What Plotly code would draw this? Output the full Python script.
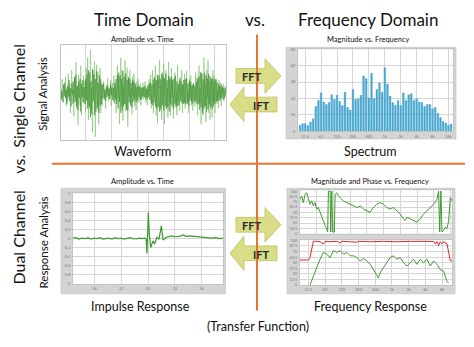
import plotly.graph_objects as go

W, H = 474, 347

# ---------------- data ----------------
wave = [
    0.05,-0.12,0.3,0.08,-0.22,0.15,-0.05,0.35,-0.3,0.1,-0.18,0.42,-0.08,0.2,-0.45,0.12,0.5,-0.25,0.06,-0.52,
    0.3,-0.1,0.68,-0.35,0.15,-0.72,0.4,0.05,-0.28,0.6,-0.5,0.12,-0.2,0.38,-0.1,0.25,-0.42,0.55,-0.15,0.78,
    -0.6,0.2,-0.35,0.95,-0.4,0.1,-0.88,0.5,-0.15,0.7,-0.98,0.3,0.62,-0.25,0.45,-0.7,0.12,0.55,-0.45,0.2,
    -0.3,0.1,0.25,-0.12,0.05,-0.35,0.18,-0.05,0.32,-0.2,0.08,-0.15,0.28,-0.3,0.1,0.22,-0.08,0.38,-0.25,0.15,
    -0.45,0.2,0.6,-0.12,0.35,-0.7,0.1,0.78,-0.3,0.5,-0.62,0.15,-0.25,0.72,-0.4,0.08,0.55,-0.75,0.3,-0.1,
    0.5,-0.2,0.1,-0.48,0.35,-0.08,0.42,-0.3,0.12,-0.38,0.25,-0.05,0.3,-0.22,0.08,0.2,-0.28,0.12,-0.1,0.22,
    -0.15,0.05,0.25,-0.2,0.1,-0.28,0.18,-0.05,0.3,-0.15,0.4,-0.35,0.1,0.5,-0.45,0.2,-0.12,0.6,-0.5,0.25,
    -0.68,0.3,0.1,0.72,-0.4,0.15,-0.6,0.45,-0.08,0.65,-0.7,0.2,0.5,-0.3,0.1,-0.55,0.68,-0.2,0.35,-0.5,
    0.55,-0.1,0.3,-0.58,0.2,0.45,-0.3,0.05,-0.5,0.6,-0.2,0.12,-0.4,0.35,-0.08,0.5,-0.45,0.18,-0.25,0.42,
    -0.35,0.1,0.48,-0.2,0.05,-0.45,0.3,-0.12,0.38,-0.28,0.15,-0.4,0.22,0.05,-0.3,0.45,-0.15,0.35,-0.5,0.2,
    0.6,-0.25,0.1,-0.7,0.45,0.15,-0.5,0.78,-0.3,0.2,-0.65,0.5,-0.1,0.72,-0.45,0.25,-0.6,0.35,0.08,-0.55,
    0.5,-0.2,0.38,-0.45,0.1,0.3,-0.25,0.05,-0.35,0.28,-0.1,0.22,-0.3,0.12,-0.05,0.2,-0.18,0.08,0.15,-0.1,
]
wave_core = [
    0.1,-0.15,0.05,-0.2,0.18,-0.08,0.22,-0.12,0.06,-0.25,0.15,-0.1,0.28,-0.18,0.1,-0.3,0.2,-0.05,0.25,-0.22,
    0.35,-0.2,0.4,-0.3,0.15,-0.38,0.25,-0.12,0.3,-0.42,0.2,-0.1,0.28,-0.22,0.12,-0.25,0.3,-0.18,0.4,-0.35,
    0.5,-0.3,0.45,-0.55,0.25,-0.48,0.52,-0.2,0.4,-0.5,0.3,-0.42,0.48,-0.35,0.22,-0.45,0.38,-0.28,0.3,-0.25,
    0.18,-0.12,0.2,-0.15,0.08,-0.18,0.12,-0.1,0.15,-0.08,0.1,-0.14,0.18,-0.06,0.12,-0.16,0.1,-0.2,0.22,-0.15,
    0.3,-0.25,0.4,-0.35,0.45,-0.2,0.38,-0.45,0.3,-0.4,0.48,-0.3,0.35,-0.25,0.42,-0.38,0.28,-0.4,0.35,-0.22,
    0.3,-0.28,0.22,-0.32,0.28,-0.2,0.25,-0.15,0.2,-0.22,0.12,-0.18,0.15,-0.1,0.14,-0.16,0.1,-0.15,0.12,-0.08,
    0.12,-0.1,0.15,-0.12,0.08,-0.15,0.14,-0.1,0.2,-0.16,0.22,-0.25,0.18,-0.28,0.3,-0.22,0.35,-0.3,0.28,-0.35,
    0.4,-0.32,0.38,-0.42,0.3,-0.35,0.42,-0.28,0.36,-0.4,0.32,-0.3,0.42,-0.36,0.28,-0.32,0.38,-0.42,0.3,-0.26,
    0.35,-0.3,0.28,-0.36,0.32,-0.24,0.38,-0.32,0.25,-0.3,0.2,-0.28,0.3,-0.18,0.25,-0.22,0.18,-0.25,0.28,-0.22,
    0.3,-0.26,0.32,-0.24,0.2,-0.3,0.26,-0.18,0.24,-0.2,0.18,-0.24,0.2,-0.18,0.15,-0.2,0.24,-0.26,0.3,-0.24,
    0.36,-0.38,0.45,-0.32,0.42,-0.46,0.3,-0.36,0.44,-0.3,0.38,-0.42,0.32,-0.36,0.42,-0.26,0.36,-0.32,0.3,-0.36,
    0.32,-0.3,0.26,-0.24,0.3,-0.2,0.24,-0.18,0.2,-0.18,0.15,-0.16,0.18,-0.12,0.13,-0.15,0.1,-0.12,0.09,-0.07,
]
wave_idx = list(range(len(wave)))
wave_grid = [36, 74, 111, 148, 186, 223]

spectrum = [5.4, 7.3, 7.3, 5.4, 8.9, 12, 24, 30, 37.5, 28.6, 26, 28, 35.6, 31, 35, 29, 25, 38, 23, 20.6,
            40.6, 31, 31.7, 35, 54, 51.4, 32.4, 56.5, 31.7, 40.6, 47, 38, 62, 46, 34.3, 28, 25.4, 30, 25,
            37.5, 30, 35.6, 36.5, 30, 31.7, 28.6, 28, 24, 26, 26, 22, 23, 17.5, 13.3, 9.5, 8, 5.7, 7]
bands = list(range(1, len(spectrum) + 1))
spec_ticks = [3, 9, 15, 21, 27, 33, 39, 45, 51, 57]
spec_labels = ["31.5", "63", "125", "250", "500", "1k", "2k", "4k", "8k", "16k"]

imp_t = [0, 2, 4, 6, 8, 10, 12, 14, 16, 18, 20, 22, 24, 26, 28, 30, 32, 34, 36, 38, 40, 42, 44, 46, 48,
         48.8, 49.3, 50.2, 50.9, 51.8, 53.3, 54.4, 56, 57.3, 58.9, 60, 62.2, 65.5, 68, 71, 73.3, 75.5,
         78, 82, 86, 89, 92, 95, 98, 100]
imp_v = [0.01, 0.02, -0.01, 0.01, 0.0, 0.02, -0.01, 0.01, 0.0, 0.02, -0.01, 0.0, 0.01, -0.01, 0.02, 0.0,
         0.01, -0.01, 0.0, 0.02, 0.0, -0.01, 0.01, 0.0, 0.01,
         -0.02, -0.33, 0.58, 0.1, -0.2, -0.05, -0.12, 0.03, -0.02, 0.28, -0.03, 0.03, 0.06, 0.04, 0.05,
         0.08, 0.05, 0.06, 0.04, 0.03, 0.02, 0.01, 0.02, 0.0, 0.01]
imp_ticks = [14.4, 32.2, 50, 67.8, 85.6]
imp_labels = ["24", "27", "30", "33", "36"]

mag_f = [0, 1.1, 2.2, 3.3, 4.4, 5.5, 6.6, 7.7, 8.8, 9.9, 11, 12.1, 13.2, 14.3, 15.4, 16.5, 17.6, 18.2,
         18.7, 19.8, 20.2, 20.9, 21.5, 22.6, 23.1, 24.2, 25.3, 26.4, 28.6, 30.8, 33, 35.2, 37.4, 39.6,
         41.8, 44, 46.2, 47.3, 48.4, 50.5, 52.7, 54.9, 57.1, 59.3, 61.5, 63.7, 65.9, 68.1, 69.2, 70.3,
         72.5, 74.7, 76.9, 79.1, 81.3, 83.5, 85.7, 87.9, 90.1, 91.2, 91.9, 92.7, 93.4, 94.5, 95.6, 96.7,
         97.8, 98.9, 100]
mag_v = [80.8, 88.5, 73, 92.3, 96, 80.8, 69, 77, 65, 73, 57.7, 61.5, 50, 42.3, 30.8, 19.2, 11.5, 3.8,
         100, 100, 3.8, 100, 3.8, 3.8, 92.3, 96, 88.5, 84.6, 77, 73, 69, 65, 61.5, 65,
         57.7, 53.8, 50, 57.7, 61.5, 69, 73, 69, 61.5, 57.7, 61.5, 53.8, 46.2, 34.6, 30.8, 38.5,
         34.6, 30.8, 27, 34.6, 46.2, 53.8, 61.5, 69, 80.8, 100, 3.8, 100, 3.8, 7.7, 15.4, 11.5,
         30.8, 84.6, 77]

phase_f = [0, 5.5, 6.6, 7.7, 8.8, 11, 13.2, 15.4, 16.5, 19.8, 24.2, 26.4, 27.5, 33, 37.4, 38.5, 46.2,
           54.9, 63.7, 72.5, 81.3, 87.9, 89, 90.1, 91.2, 92.3, 93.4, 94.5, 96.7, 97.8, 98.9, 100]
phase_v = [56, 56, 61.5, 80.8, 98, 98, 97, 92, 98, 97, 98, 94.6, 98, 97, 96, 98, 97,
           98, 97, 98, 97, 97.7, 92.3, 97.7, 88.5, 97, 92.3, 97, 92.3, 69, 54, 54]

coh_f = [6.6, 8.8, 11, 13.2, 15.4, 17.6, 19.8, 22, 24.2, 26.4, 28.6, 30.8, 33, 35.2, 37.4, 39.6, 41.8,
         44, 46.2, 48.4, 50.5, 51.6, 52.7, 54.9, 57.1, 59.3, 61.5, 63.7, 65.9, 68.1, 70.3, 72.5, 74.7,
         76.9, 79.1, 81.3, 83.5, 85.7, 87.9, 90.1, 92.3, 94.5, 95.6, 96.7, 97.8]
coh_v = [0, 19.2, 42.3, 57.7, 73, 69, 61.5, 77, 73, 77, 69, 73, 65.4, 65.4, 61.5, 53.8, 59.2,
         53.8, 46.2, 34.6, 23, 15.4, 27, 38.5, 50, 61.5, 65.4, 57.7, 61.5, 50, 42.3, 50, 57.7,
         46.2, 57.7, 50, 57.7, 42.3, 53.8, 46.2, 34.6, 30.8, 19.2, 7.7, 3.8]

# ---------------- helpers ----------------
def px(x):
    return x / W

def py(y):
    return 1 - y / H

FONT = "Lato"
GRID = "#d6d6d6"
GREEN = "#3f9a30"
ORANGE = "#ec7431"

fig = go.Figure()
fig.add_trace(go.Scatter(x=wave_idx, y=wave, mode="lines", xaxis="x", yaxis="y",
                         line=dict(color="rgba(110,185,90,0.85)", width=0.6), showlegend=False))
fig.add_trace(go.Scatter(x=wave_idx, y=wave_core, mode="lines", xaxis="x", yaxis="y",
                         line=dict(color="rgba(50,135,35,0.9)", width=0.6), showlegend=False))
fig.add_trace(go.Bar(x=bands, y=spectrum, xaxis="x2", yaxis="y2",
                     marker=dict(color="#4aaed6", line=dict(color="#2d8bb8", width=0.3)),
                     showlegend=False))
fig.add_trace(go.Scatter(x=imp_t, y=imp_v, mode="lines", xaxis="x3", yaxis="y3",
                         line=dict(color=GREEN, width=1.2), showlegend=False))
fig.add_trace(go.Scatter(x=mag_f, y=mag_v, mode="lines", xaxis="x4", yaxis="y4",
                         line=dict(color=GREEN, width=1), showlegend=False))
fig.add_trace(go.Scatter(x=phase_f, y=phase_v, mode="lines", xaxis="x5", yaxis="y5",
                         line=dict(color="#e0262a", width=1), showlegend=False))
fig.add_trace(go.Scatter(x=coh_f, y=coh_v, mode="lines", xaxis="x5", yaxis="y5",
                         line=dict(color=GREEN, width=1), showlegend=False))

tick_font = dict(size=4, color="#777777", family=FONT)
base_ax = dict(showgrid=True, gridcolor=GRID, gridwidth=0.6, zeroline=False, showline=True,
               mirror=True, linecolor="#c4c4c4", linewidth=0.6, ticks="", tickfont=tick_font,
               fixedrange=True)

layout_axes = dict(
    xaxis=dict(base_ax, domain=[px(60.7), px(226)], range=[0, len(wave) - 1], tickvals=wave_grid,
               showticklabels=False, anchor="y"),
    yaxis=dict(base_ax, domain=[py(139), py(43)], range=[-1.05, 1.05], showgrid=False,
               showticklabels=False, anchor="x"),
    xaxis2=dict(base_ax, domain=[px(298), px(453)], range=[0.3, len(spectrum) + 0.7],
                tickvals=spec_ticks, ticktext=spec_labels, anchor="y2", ticklabelstandoff=1),
    yaxis2=dict(base_ax, domain=[py(130), py(47)], range=[0, 80], dtick=16, anchor="x2",
                ticklabelstandoff=1),
    xaxis3=dict(base_ax, domain=[px(73), px(223)], range=[0, 100], tickvals=imp_ticks,
                ticktext=imp_labels, anchor="y3", ticklabelstandoff=1),
    yaxis3=dict(base_ax, domain=[py(285), py(193)], range=[-1, 1], dtick=0.2, anchor="x3",
                ticklabelstandoff=1),
    xaxis4=dict(base_ax, domain=[px(300), px(452)], range=[0, 100], dtick=11, showticklabels=False,
                anchor="y4"),
    yaxis4=dict(base_ax, domain=[py(234), py(190)], range=[0, 102], dtick=12.5, anchor="x4",
                ticklabelstandoff=1),
    xaxis5=dict(base_ax, domain=[px(300), px(452)], range=[0, 100],
                tickvals=[5.5, 16.5, 27.5, 38.5, 49.5, 60.5, 71.5, 82.5, 93.5],
                ticktext=["31.5", "63", "125", "250", "500", "1k", "2k", "4k", "8k"], anchor="y5",
                ticklabelstandoff=1),
    yaxis5=dict(base_ax, domain=[py(286), py(240)], range=[0, 102], dtick=12.5, anchor="x5",
                ticklabelstandoff=1),
)

# ---------------- decorations ----------------
shapes = []
FRAME = "#d4d4d4"
for (x0, y0, x1, y1) in [(286, 45, 456, 138), (61, 188, 225.5, 295), (287, 188, 455, 295)]:
    shapes.append(dict(type="rect", xref="paper", yref="paper", x0=px(x0), y0=py(y1), x1=px(x1),
                       y1=py(y0), fillcolor=FRAME, line=dict(color="#c0c0c0", width=0.6),
                       layer="below"))
for (x0, y0, x1, y1) in [(298, 47, 453, 130), (73, 193, 223, 285), (300, 190, 452, 234), (300, 240, 452, 286)]:
    shapes.append(dict(type="rect", xref="paper", yref="paper", x0=px(x0), y0=py(y1), x1=px(x1),
                       y1=py(y0), fillcolor="white", line=dict(width=0), layer="below"))


def arrow_path(xs, xb, xt, yc, bh, hh):
    pts = [(xs, yc - bh / 2), (xb, yc - bh / 2), (xb, yc - hh / 2), (xt, yc), (xb, yc + hh / 2),
           (xb, yc + bh / 2), (xs, yc + bh / 2)]
    return "M " + " L ".join(f"{px(a):.5f},{py(b):.5f}" for a, b in pts) + " Z"


ARROW_FILL = "#dadd88"
ARROW_LINE = "#bfc25a"
for yc in (74, 225):
    shapes.append(dict(type="path", xref="paper", yref="paper", path=arrow_path(236, 265, 281, yc, 15, 35),
                       fillcolor=ARROW_FILL, line=dict(color=ARROW_LINE, width=0.8)))
for yc in (103, 254):
    shapes.append(dict(type="path", xref="paper", yref="paper", path=arrow_path(277, 244, 230, yc, 15, 35),
                       fillcolor=ARROW_FILL, line=dict(color=ARROW_LINE, width=0.8)))

shapes.append(dict(type="line", xref="paper", yref="paper", x0=px(257), x1=px(257), y0=py(312), y1=py(32),
                   line=dict(color=ORANGE, width=2)))
shapes.append(dict(type="line", xref="paper", yref="paper", x0=px(52), x1=px(465), y0=py(163), y1=py(163),
                   line=dict(color=ORANGE, width=2)))

# ---------------- text ----------------
annotations = []


def txt(s, x, y, size, angle=0, bold=False, color="#111111"):
    annotations.append(dict(text=f"<b>{s}</b>" if bold else s, x=px(x), y=py(y), xref="paper",
                            yref="paper", showarrow=False, xanchor="center", yanchor="middle",
                            textangle=angle, font=dict(family=FONT, size=size, color=color)))


txt("Time Domain", 144, 17, 17)
txt("vs.", 255, 17, 17)
txt("Frequency Domain", 368, 17, 17)
txt("Amplitude vs. Time", 142, 37, 7.5)
txt("Magnitude vs. Frequency", 368, 37, 7.5)
txt("Waveform", 142, 151, 12.5)
txt("Spectrum", 370, 151, 12.5)
txt("Amplitude vs. Time", 142, 181, 7.5)
txt("Magnitude and Phase vs. Frequency", 370, 181, 7.5)
txt("Impulse Response", 140, 308, 12.5)
txt("Frequency Response", 370, 308, 12.5)
txt("(Transfer Function)", 258, 328, 12.5)
txt("Single Channel", 19, 94, 16, angle=-90)
txt("Signal Analysis", 43, 92, 11.5, angle=-90)
txt("vs.", 19, 164, 16, angle=-90)
txt("Dual Channel", 19, 238, 16, angle=-90)
txt("Response Analysis", 43, 243, 11.5, angle=-90)
txt("FFT", 251, 75, 11, bold=True, color="#2a2a2a")
txt("IFT", 261, 104, 11, bold=True, color="#2a2a2a")
txt("FFT", 251, 226, 11, bold=True, color="#2a2a2a")
txt("IFT", 261, 255, 11, bold=True, color="#2a2a2a")

fig.update_layout(
    width=W, height=H, margin=dict(l=0, r=0, t=0, b=0),
    paper_bgcolor="white", plot_bgcolor="white",
    bargap=0.35, showlegend=False,
    shapes=shapes, annotations=annotations,
    **layout_axes,
)

fig.write_html("out.html", config={"displayModeBar": False})
